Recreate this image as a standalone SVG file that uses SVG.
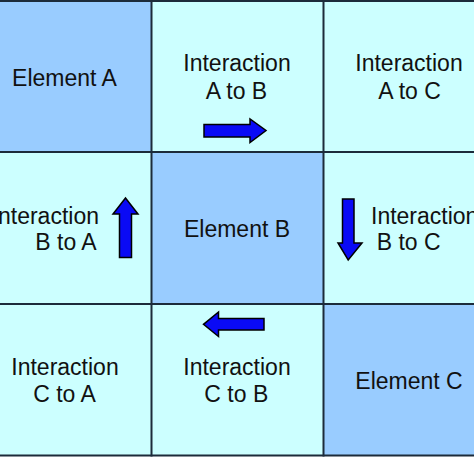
<svg xmlns="http://www.w3.org/2000/svg" width="474" height="474" viewBox="0 0 474 474">
<defs>
<style>
.cell{fill:#ccffff}
.elem{fill:#99ccff}
.grid{stroke:#1c2b3a;stroke-width:2;fill:none}
text{font-family:"Liberation Sans",Arial,sans-serif;font-size:23px;fill:#111}
.arrow{fill:#0a0af5;stroke:#000;stroke-width:1.5;stroke-linejoin:miter}
</style>
</defs>
<rect x="0" y="0" width="474" height="474" fill="#ffffff"/>
<g id="cells">
<rect id="elementA" class="elem" x="0" y="1" width="151.5" height="151"/>
<rect class="cell" x="151.5" y="1" width="172" height="151"/>
<rect class="cell" x="323.5" y="1" width="151" height="151"/>
<rect class="cell" x="0" y="152" width="151.5" height="152"/>
<rect class="elem" x="151.5" y="152" width="172" height="152"/>
<rect class="cell" x="323.5" y="152" width="151" height="152"/>
<rect class="cell" x="0" y="304" width="151.5" height="151.5"/>
<rect class="cell" x="151.5" y="304" width="172" height="151.5"/>
<rect class="elem" x="323.5" y="304" width="151" height="151.5"/>
</g>
<g id="grid" class="grid">
<line x1="0" y1="1" x2="474" y2="1"/>
<line x1="0" y1="152" x2="474" y2="152"/>
<line x1="0" y1="304" x2="474" y2="304"/>
<line x1="0" y1="455.5" x2="474" y2="455.5"/>
<line x1="151.5" y1="0" x2="151.5" y2="456.5"/>
<line x1="323.5" y1="0" x2="323.5" y2="456.5"/>
</g>
<g id="node-element-a"><text x="64.5" y="86" text-anchor="middle">Element A</text></g>
<g id="node-a-to-b"><text x="237" y="71" text-anchor="middle">Interaction</text><text x="236.5" y="99" text-anchor="middle">A to B</text></g>
<g id="node-a-to-c"><text x="409" y="71" text-anchor="middle">Interaction</text><text x="409.5" y="99" text-anchor="middle">A to C</text></g>
<g id="node-b-to-a"><text x="99" y="224" text-anchor="end">Interaction</text><text x="96.7" y="250" text-anchor="end">B to A</text></g>
<g id="node-element-b"><text x="237" y="237" text-anchor="middle">Element B</text></g>
<g id="node-b-to-c"><text x="371" y="224">Interaction</text><text x="376.7" y="250">B to C</text></g>
<g id="node-c-to-a"><text x="65" y="375" text-anchor="middle">Interaction</text><text x="64.5" y="401.5" text-anchor="middle">C to A</text></g>
<g id="node-c-to-b"><text x="237" y="375" text-anchor="middle">Interaction</text><text x="236.3" y="401.5" text-anchor="middle">C to B</text></g>
<g id="node-element-c"><text x="409" y="388.5" text-anchor="middle">Element C</text></g>
<g id="connectors">
<polygon class="arrow" points="204,124.5 250,124.5 250,119 266,130.5 250,142.5 250,137 204,137"/>
<polygon class="arrow" points="119.5,257.5 119.5,214 113,214 125.5,198 138,214 131.5,214 131.5,257.5"/>
<polygon class="arrow" points="342.5,199 354,199 354,243 362,243 348.2,260 338,243 342.5,243"/>
<polygon class="arrow" points="264,318.5 218.5,318.5 218.5,312 203.5,324.3 218.5,336.5 218.5,330 264,330"/>
</g>
</svg>
